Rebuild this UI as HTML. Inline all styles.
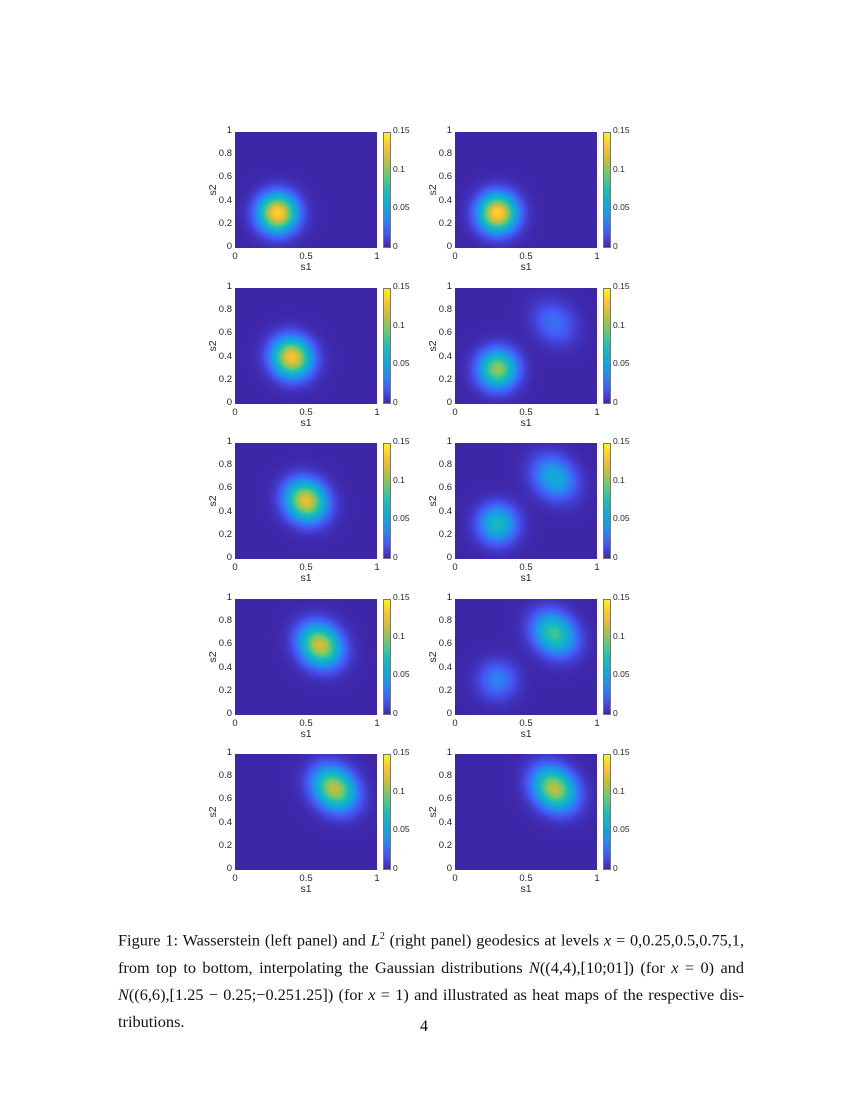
<!DOCTYPE html>
<html><head><meta charset="utf-8">
<style>
body{margin:0;background:#fff;}
#page{position:relative;width:850px;height:1100px;background:#fff;overflow:hidden;font-family:"Liberation Sans",sans-serif;}
.tick{position:absolute;font-size:9.5px;color:#262626;white-space:nowrap;}
.lab{position:absolute;font-size:10.5px;color:#262626;}
canvas{position:absolute;}
.box{position:absolute;border:1px solid #262626;box-sizing:border-box;pointer-events:none;}
#caption{position:absolute;left:118px;top:923px;width:626px;font-family:"Liberation Serif",serif;font-size:16.3px;line-height:27.3px;text-align:justify;color:#111;}
#caption i{font-style:italic;}
#pagenum{position:absolute;left:420px;top:1018px;font-family:"Liberation Serif",serif;font-size:16px;}
</style></head><body>
<div id="page">
<div id="caption">Figure 1: Wasserstein (left panel) and <i>L</i><sup style="font-size:10px">2</sup> (right panel) geodesics at levels <i>x</i> = 0,0.25,0.5,0.75,1, from top to bottom, interpolating the Gaussian distributions <i>N</i>((4,4),[10;01]) (for <i>x</i> = 0) and <i>N</i>((6,6),[1.25 − 0.25;−0.251.25]) (for <i>x</i> = 1) and illustrated as heat maps of the respective dis&shy;tributions.</div>
<div id="pagenum">4</div>
</div>
<script>
const levels=[0,0.25,0.5,0.75,1];
const mean0=[0.3,0.3];
const mean1=[0.7,0.7];
const cov1Shape=[1.25,-0.25,-0.25,1.25];
const baseSigma=[0.092];
const peak0=[0.138];
const yTicks=[0,0.2,0.4,0.6,0.8,1];
const yTickLabels=['0','0.2','0.4','0.6','0.8','1'];
const xTicks=[0,0.5,1];
const xTickLabels=['0','0.5','1'];
const cbTicks=[0,0.05,0.1,0.15];
const cbTickLabels=['0','0.05','0.1','0.15'];
const cbMax=0.15;

const rowTops=[132,288,443,599,754];
const colLefts=[235,455];
const W=142,H=116,CBW=8,CBGAP=6;
const page=document.getElementById('page');

const stops=[[0,62,38,168],[0.125,70,86,246],[0.25,38,140,238],[0.375,16,172,214],[0.5,30,190,180],[0.625,100,203,118],[0.75,195,190,62],[0.875,252,195,52],[1,249,251,14]];
function parula(v){v=Math.max(0,Math.min(1,v));for(let i=1;i<stops.length;i++){if(v<=stops[i][0]){const a=stops[i-1],b=stops[i],t=(v-a[0])/(b[0]-a[0]);return [a[1]+t*(b[1]-a[1]),a[2]+t*(b[2]-a[2]),a[3]+t*(b[3]-a[3])];}}return stops[8].slice(1);}

function sqrtm(m){const a=m[0],b=m[1],d=m[3];const s=Math.sqrt(a*d-b*b);const t=Math.sqrt(a+d+2*s);return [(a+s)/t,b/t,b/t,(d+s)/t];}
const aspect=H/W;
function gauss(mu,S){const s2=baseSigma[0]*baseSigma[0];const det=S[0]*S[3]-S[1]*S[2];const inv=[S[3]/det,-S[1]/det,-S[2]/det,S[0]/det];const amp=peak0[0]/Math.sqrt(det);
 return (x,y)=>{const dx=x-mu[0],dy=(y-mu[1])*aspect;const q=(inv[0]*dx*dx+2*inv[1]*dx*dy+inv[3]*dy*dy)/s2;return amp*Math.exp(-0.5*q);};}
const R=sqrtm(cov1Shape);
function wass(t){const mu=[mean0[0]+t*(mean1[0]-mean0[0]),mean0[1]+t*(mean1[1]-mean0[1])];
 const A=[(1-t)+t*R[0],t*R[1],t*R[2],(1-t)+t*R[3]];
 const S=[A[0]*A[0]+A[1]*A[2],A[0]*A[1]+A[1]*A[3],A[2]*A[0]+A[3]*A[2],A[2]*A[1]+A[3]*A[3]];return gauss(mu,S);}
const f0=gauss(mean0,[1,0,0,1]),f1=gauss(mean1,cov1Shape);
function l2(t){return (x,y)=>(1-t)*f0(x,y)+t*f1(x,y);}

function addText(cls,txt,x,y,name,extra){const d=document.createElement('div');d.className=cls;d.textContent=txt;d.style.left=x+'px';d.style.top=y+'px';if(extra)Object.assign(d.style,extra);


page.appendChild(d);return d;}

function panel(L,T,f,name){
 const xs=v=>L+v*W, ys=v=>T+H-v*H;
 const c=document.createElement('canvas');c.width=W;c.height=H;c.style.left=L+'px';c.style.top=T+'px';
 
 
 page.appendChild(c);
 const ctx=c.getContext('2d');const img=ctx.createImageData(W,H);
 for(let j=0;j<H;j++)for(let i=0;i<W;i++){const v=f((i+0.5)/W,1-(j+0.5)/H);const col=parula(v/cbMax);const k=(j*W+i)*4;img.data[k]=col[0];img.data[k+1]=col[1];img.data[k+2]=col[2];img.data[k+3]=255;}
 ctx.putImageData(img,0,0);
 yTicks.forEach((v,i)=>{addText('tick',yTickLabels[i],L-3,ys(v)-7,name+'-y-tick',{transform:'translateX(-100%)'});});
 xTicks.forEach((v,i)=>{addText('tick',xTickLabels[i],xs(v),T+H+3,name+'-x-tick',{transform:'translateX(-50%)'});});
 addText('lab','s1',L+W/2,T+H+13,name+'-x-axis-title',{transform:'translateX(-50%)'});
 addText('lab','s2',L-22,T+H/2-6,name+'-y-axis-title',{transform:'translateX(-50%) rotate(-90deg)'});
 const cx=L+W+CBGAP;
 const cb=document.createElement('canvas');cb.width=CBW;cb.height=H;cb.style.left=cx+'px';cb.style.top=T+'px';
 
 
 page.appendChild(cb);
 const cc=cb.getContext('2d');for(let j=0;j<H;j++){const col=parula(1-(j+0.5)/H);cc.fillStyle='rgb('+col.map(Math.round).join(',')+')';cc.fillRect(0,j,CBW,1);}
 const bx=document.createElement('div');bx.className='box';bx.style.cssText+=';left:'+cx+'px;top:'+T+'px;width:'+CBW+'px;height:'+H+'px;border-color:#777';
 
 
 page.appendChild(bx);
 cbTicks.forEach((v,i)=>{addText('tick',cbTickLabels[i],cx+CBW+2,T+H-v/cbMax*H-7,name+'-colorbar-tick',{fontSize:'8.5px'});});
}
levels.forEach((t,r)=>{panel(colLefts[0],rowTops[r],wass(t),'wasserstein-x'+String(t).replace('.','p'));panel(colLefts[1],rowTops[r],l2(t),'l2-x'+String(t).replace('.','p'));});
</script>
</body></html>
